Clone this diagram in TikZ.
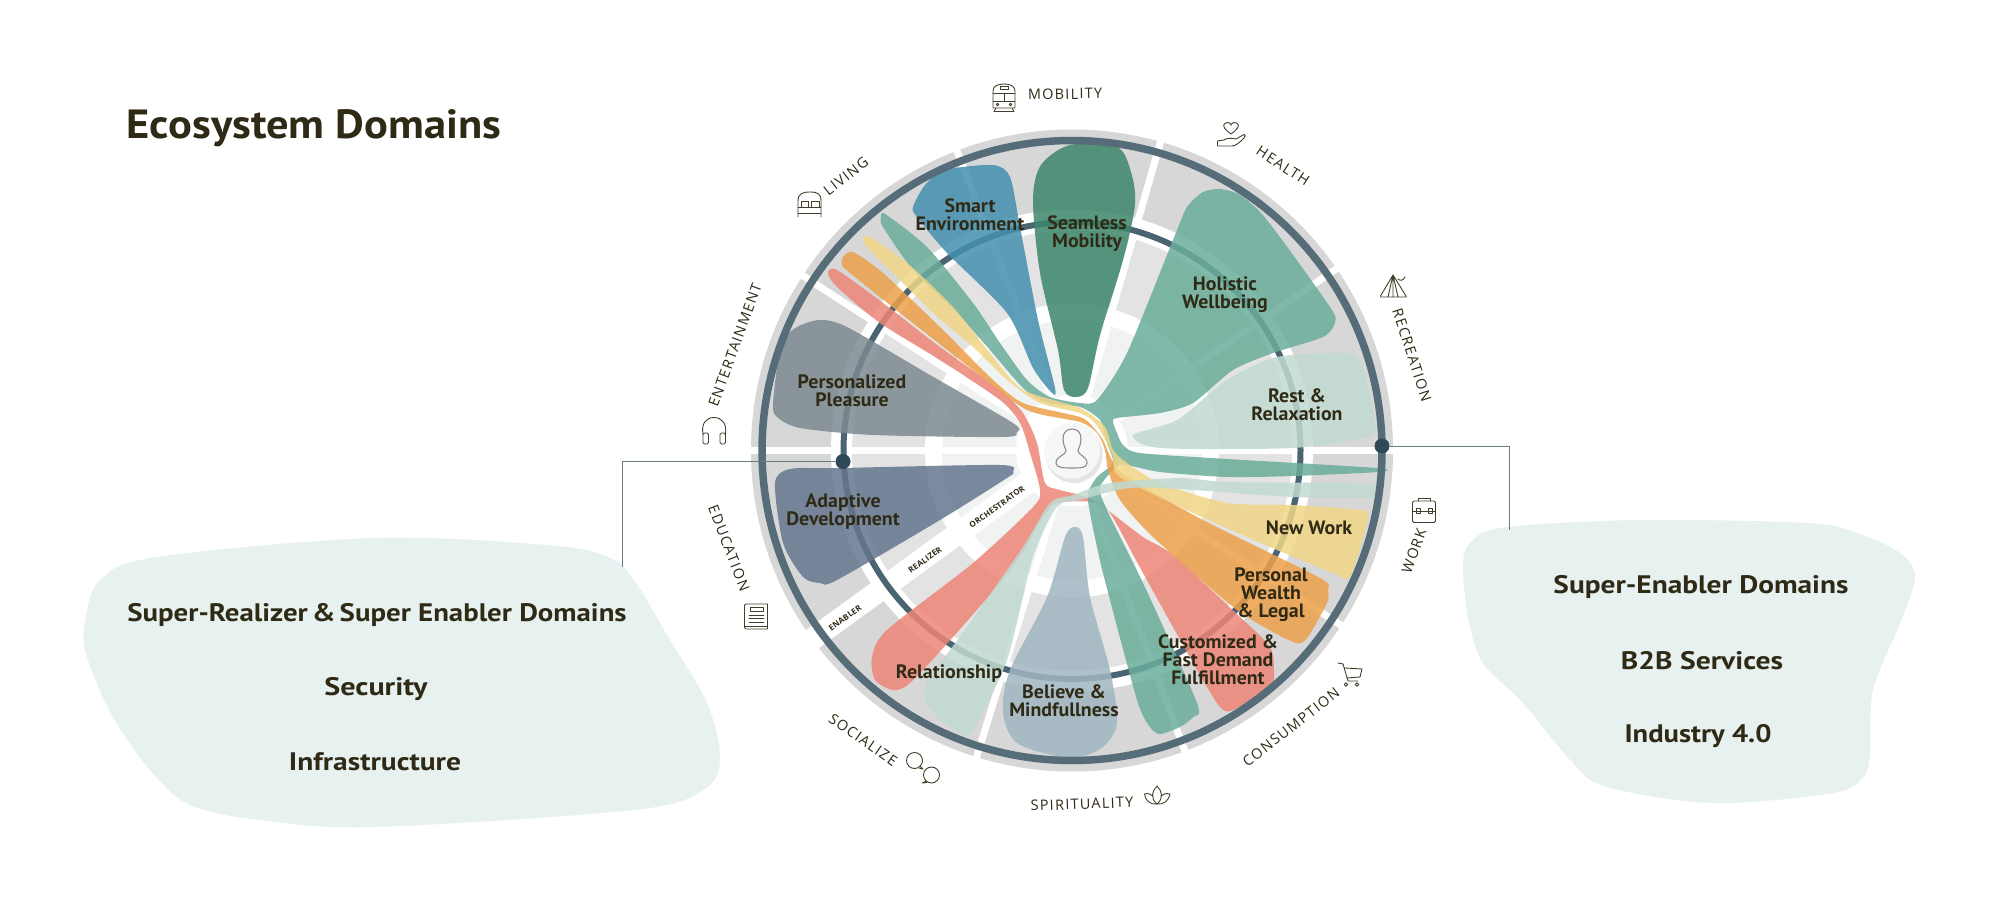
\documentclass[tikz,border=0pt]{standalone}
\usepackage{fontspec}
\setmainfont{PT Sans}
\newfontfamily\lblfont[LetterSpace=9]{Open Sans}
\newfontfamily\bandfont[LetterSpace=3]{Open Sans}
\newcommand{\wider}[1]{\addfontfeature{FakeStretch=#1}}
\newdimen\px \px=0.05cm
\definecolor{ink}{HTML}{2F2A15}
\definecolor{ringout}{HTML}{566C78}
\definecolor{ringin}{HTML}{4A6472}
\definecolor{dotc}{HTML}{2F4A57}
\definecolor{bandA}{HTML}{D7D7D7}
\definecolor{bandB}{HTML}{E3E3E3}
\definecolor{bandC}{HTML}{F1F3F2}
\definecolor{blob}{HTML}{E7F1EF}
\definecolor{cRed}{HTML}{ED8576}
\definecolor{cOrange}{HTML}{EDA04A}
\definecolor{cYellow}{HTML}{F0D687}
\definecolor{cGreen}{HTML}{6AAC9A}
\definecolor{cMob}{HTML}{3C856A}
\definecolor{cBlue}{HTML}{458FAF}
\definecolor{cGrey}{HTML}{7D8A91}
\definecolor{cAdapt}{HTML}{64768E}
\definecolor{cBelieve}{HTML}{A0B6C1}
\definecolor{cPale}{HTML}{C1DAD1}
\tikzset{
 petal/.style={fill=#1,fill opacity=.85},
 wheeltext/.style={text=ink,align=center,font=\bfseries\fontsize{27.5}{25.6}\selectfont\wider{1.03},inner sep=0pt},
 blobtext/.style={text=ink,font=\bfseries\fontsize{36}{40}\selectfont,inner sep=0pt},
 domainlabel/.style={text=ink,font=\lblfont\fontsize{20.5}{22}\selectfont,inner sep=0pt},
 bandlabel/.style={text=ink,font=\bandfont\bfseries\fontsize{11.5}{13}\selectfont,inner sep=0pt,rotate=36},
 spoke/.style={white,line width=7\px},
 iconline/.style={draw=ink!90,line width=.9\px,line cap=round,line join=round},
 linkline/.style={draw=ringout!90,line width=1\px},
}
\begin{document}
\begin{tikzpicture}[x=0.05cm,y=-0.05cm]
\useasboundingbox (0,0) rectangle (2000,910);
\fill[white] (0,0) rectangle (2000,910);
\def\cx{1072}\def\cy{450.5}
% blobs
\fill[blob] plot[smooth cycle,tension=.55] coordinates {(85,623)(100,580)(157,557)(374,538)(547,545)(608,557)(634,580)(668,637)(707,703)(720,760)(703,790)(634,810)(374,827)(260,820)(190,805)(150,770)(113,717)(87,657)};
\fill[blob] plot[smooth cycle,tension=.55] coordinates {(1463,563)(1473,540)(1507,527)(1640,520)(1807,523)(1857,533)(1900,553)(1915,577)(1900,623)(1873,690)(1870,753)(1863,777)(1833,793)(1713,803)(1607,787)(1573,763)(1523,703)(1483,663)(1468,617)};
% bands
\fill[bandA] (\cx,\cy) circle (321);
\fill[white] (\cx,\cy) circle (241);
\fill[bandB] (\cx,\cy) circle (220);
\fill[white] (\cx,\cy) circle (147);
\fill[bandC] (\cx,\cy) circle (130);
\foreach \a in {0,34.5,74,111,147,180,252.7,290.6,327}
  \draw[spoke] (\cx,\cy) -- ({\cx+330*cos(\a)},{\cy-330*sin(\a)});
\draw[spoke,line width=22\px] (\cx,\cy) -- ({\cx+330*cos(216)},{\cy-330*sin(216)});
\fill[white] (\cx,\cy) circle (56);
% inner ring under petals
\draw[ringin,line width=6\px] (\cx,\cy) circle (228.5);
% petals
\fill[petal=cGrey] plot[smooth cycle,tension=.45] coordinates {(773,403)(781,345)(797,327)(820,320)(847,327)(930,375)(1013,423)(1017,432)(1003,437)(873,435)(800,428)(777,417)};
\fill[petal=cAdapt] plot[smooth cycle,tension=.45] coordinates {(775,483)(790,469)(840,468)(1000,465)(1013,472)(1007,478)(940,520)(837,580)(820,583)(803,577)(783,543)};
\fill[petal=cBelieve] plot[smooth cycle,tension=.5] coordinates {(1075,527)(1065,537)(1047,597)(1010,670)(1003,713)(1017,743)(1060,757)(1080,757)(1103,747)(1117,723)(1110,670)(1090,597)(1083,537)};
\fill[petal=cBlue] plot[smooth cycle,tension=.45] coordinates {(913,207)(925,185)(945,170)(993,165)(1010,177)(1020,227)(1038,320)(1055,388)(1052,393)(1033,368)(1007,313)(947,253)(917,217)};
\fill[petal=cMob] plot[smooth cycle,tension=.5] coordinates {(1033,200)(1041,165)(1070,145)(1117,147)(1131,172)(1135,205)(1123,260)(1100,335)(1088,388)(1076,397)(1064,390)(1058,350)(1040,273)};
\fill[petal=cRed] plot[smooth cycle,tension=.45] coordinates {(828,273)(837,270)(883,303)(940,347)(1000,390)(1023,413)(1037,443)(1045,483)(1060,490)(1093,500)(1143,537)(1173,555)(1240,617)(1270,647)(1274,673)(1270,687)(1233,710)(1220,707)(1197,670)(1143,573)(1110,513)(1093,502)(1057,503)(1043,517)(1013,567)(953,637)(910,683)(893,690)(875,680)(872,657)(887,630)(973,563)(1033,507)(1040,490)(1030,453)(1020,423)(1000,400)(940,360)(880,323)(837,287)};
\fill[petal=cGreen] plot[smooth cycle,tension=.42] coordinates {(881,218)(885,214)(927,247)(973,303)(1000,343)(1027,380)(1050,397)(1080,403)(1097,400)(1127,353)(1173,240)(1187,207)(1203,192)(1220,189)(1240,195)(1267,220)(1330,307)(1335,323)(1323,337)(1273,353)(1233,370)(1193,403)(1160,413)(1117,418)(1113,422)(1117,433)(1123,445)(1140,453)(1227,459)(1377,468)(1378,472)(1293,476)(1227,477)(1160,472)(1127,465)(1117,466)(1100,487)(1107,510)(1143,583)(1197,703)(1193,717)(1180,727)(1160,734)(1150,727)(1137,700)(1103,573)(1090,513)(1088,493)(1097,477)(1113,463)(1107,443)(1100,420)(1080,407)(1047,403)(1023,388)(990,350)(957,313)(913,270)(883,227)};
\fill[petal=cOrange] plot[smooth cycle,tension=.42] coordinates {(843,257)(853,252)(883,273)(940,327)(990,377)(1023,403)(1080,417)(1093,427)(1103,440)(1112,460)(1127,477)(1203,520)(1320,578)(1328,590)(1327,603)(1307,638)(1293,642)(1237,610)(1153,537)(1120,500)(1108,470)(1105,450)(1097,433)(1080,422)(1027,410)(973,370)(900,313)(850,273)(842,265)};
\fill[petal=cYellow] plot[smooth cycle,tension=.42] coordinates {(868,236)(907,263)(953,307)(993,357)(1023,390)(1080,408)(1105,427)(1113,450)(1127,463)(1160,483)(1227,503)(1293,505)(1360,510)(1368,518)(1350,577)(1333,573)(1270,547)(1193,513)(1120,477)(1113,457)(1107,443)(1095,423)(1080,413)(1040,403)(1007,380)(973,347)(933,313)(897,277)(865,245)};
\fill[petal=cPale] plot[smooth cycle,tension=.45] coordinates {(1073,495)(1110,483)(1180,478)(1227,482)(1343,483)(1377,485)(1380,492)(1377,498)(1293,497)(1193,490)(1130,488)(1080,500)(1057,507)(1033,557)(1007,660)(973,730)(960,733)(935,715)(925,687)(967,627)(1023,547)(1050,503)};
\fill[petal=cPale] plot[smooth cycle,tension=.45] coordinates {(1133,435)(1177,420)(1227,380)(1277,357)(1340,353)(1360,360)(1375,423)(1367,437)(1293,448)(1160,448)};
% outer ring
\draw[ringout,line width=7.5\px] (\cx,\cy) circle (310);
% person
\fill[black!10] (\cx+2,\cy+4) circle (28.5);
\fill[white!97!black] (\cx,\cy) circle (28);
\draw[draw=black!45,line width=1.1\px,line join=round]
 (1072,429) .. controls (1066,429) and (1063,433) .. (1063,439) .. controls (1063,445) and (1066,449) .. (1066,451)
 .. controls (1066,455) and (1056,456) .. (1056,463) .. controls (1056,468) and (1064,468) .. (1072,468)
 .. controls (1080,468) and (1087,468) .. (1087,463) .. controls (1087,456) and (1078,455) .. (1078,451)
 .. controls (1078,449) and (1081,445) .. (1081,439) .. controls (1081,433) and (1078,429) .. (1072,429) -- cycle;
% connectors
\node[circle,fill=dotc,minimum size=15\px,inner sep=0pt] (dotL) at (843,461.5) {};
\node[circle,fill=dotc,minimum size=15\px,inner sep=0pt] (dotR) at (1382,446) {};
\coordinate (cornerL) at (622,461.5);
\coordinate (endL) at (622,567);
\coordinate (cornerR) at (1509,446);
\coordinate (endR) at (1509,530);
\draw[linkline] (dotL) -- (cornerL) -- (endL);
\draw[linkline] (dotR) -- (cornerR) -- (endR);
% wheel texts
\node[wheeltext] (t1) at (970,215) {Smart\\Environment};
\node[wheeltext] (t2) at (1087,234) {Seamless\\Mobility};
\node[wheeltext] (t3) at (1225,294.5) {Holistic\\Wellbeing};
\node[wheeltext] (t4) at (1297,405) {Rest \&\\Relaxation};
\node[wheeltext] (t5) at (1309,528) {New Work};
\node[wheeltext] (t6) at (1271,594.5) {Personal\\Wealth\\\& Legal};
\node[wheeltext] (t7) at (1218,660) {Customized \&\\Fast Demand\\Fulfillment};
\node[wheeltext] (t8) at (1064,701) {Believe \&\\Mindfullness};
\node[wheeltext] (t9) at (949,674) {Relationship};
\node[wheeltext] (t10) at (843,512) {Adaptive\\Development};
\node[wheeltext] (t11) at (852,391) {Personalized\\Pleasure};
% band labels
\node[bandlabel] (b1) at (845,618) {ENABLER};
\node[bandlabel] (b2) at (925,560) {REALIZER};
\node[bandlabel] (b3) at (997,507) {ORCHESTRATOR};
% domains
\node[domainlabel,rotate=1] (d1) at (1065,94) {MOBILITY};
\node[domainlabel,rotate=-33] (d2) at (1283,166) {HEALTH};
\node[domainlabel,rotate=-72] (d3) at (1412,355) {RECREATION};
\node[domainlabel,rotate=70] (d4) at (1414,551) {WORK};
\node[domainlabel,rotate=38] (d5) at (1291,727) {CONSUMPTION};
\node[domainlabel,rotate=2] (d6) at (1082,804) {SPIRITUALITY};
\node[domainlabel,rotate=-35] (d7) at (863,740) {SOCIALIZE};
\node[domainlabel,rotate=-69] (d8) at (729,548) {EDUCATION};
\node[domainlabel,rotate=70] (d9) at (735,345) {ENTERTAINMENT};
\node[domainlabel,rotate=38] (d10) at (846,176) {LIVING};
% title & blob text
\node[text=ink,font=\bfseries\fontsize{58}{60}\selectfont\wider{1.09},inner sep=0pt] (title) at (314,128) {Ecosystem Domains};
\node[blobtext] (l1) at (377,615) {\wider{1.14}Super-Realizer\,\&\,Super Enabler Domains};
\node[blobtext] (l2) at (376,689) {\wider{1.19}Security};
\node[blobtext] (l3) at (375,762) {\wider{1.165}Infrastructure};
\node[blobtext] (r1) at (1701,587) {\wider{1.16}Super-Enabler Domains};
\node[blobtext] (r2) at (1702,661) {\wider{1.17}B2B Services};
\node[blobtext] (r3) at (1698,736) {\wider{1.13}Industry 4.0};
% icons
% train
\draw[iconline] (993,108) -- (993,91) .. controls (993,86) and (998,84) .. (1004,84) .. controls (1010,84) and (1015,86) .. (1015,91) -- (1015,108) -- cycle;
\draw[iconline] (993,93) -- (1015,93) (993,101) -- (1015,101) (1004,93) -- (1004,101) (1000,86.5) rectangle (1008,89);
\draw[iconline] (997.5,104.5) circle (1.3) (1010.5,104.5) circle (1.3);
\draw[iconline] (996,108) -- (994,111.5) -- (1014,111.5) -- (1012,108);
% bed
\draw[iconline] (798,217) -- (798,201) .. controls (798,194) and (802,192) .. (810,192) .. controls (818,192) and (821,194) .. (821,201) -- (821,217);
\draw[iconline] (798,207) -- (821,207) (798,213) -- (821,213) (801,201) rectangle (808.5,207) (811.5,201) rectangle (819,207);
% heart + hand
\draw[iconline] (1231,134) .. controls (1224,129) and (1223,126) .. (1224,124.5) .. controls (1226,121.5) and (1230,122) .. (1231,125) .. controls (1232,122) and (1236,121.5) .. (1238,124.5) .. controls (1239,126) and (1238,129) .. (1231,134) -- cycle;
\draw[iconline] (1217.5,146) -- (1217.5,141) -- (1224,140) .. controls (1226,138) and (1232,138) .. (1236,139) -- (1244,134.5) .. controls (1246,134) and (1245,137) .. (1244,138) .. controls (1240,142) and (1236,146) .. (1232,146) -- cycle;
% tent
\draw[iconline] (1393,275) -- (1380.5,296) (1393,275) -- (1406,296) (1393,275) -- (1388,297) (1393,275) -- (1398,297) (1393,275) -- (1393,297) (1380.5,297) -- (1406.5,297);
\draw[iconline] (1398,279) .. controls (1400,281) and (1403,281) .. (1405,277);
% briefcase
\draw[iconline,rounded corners=1.5\px] (1412.5,501) rectangle (1435.5,522.5);
\draw[iconline] (1412.5,511) -- (1435.5,511) (1418,501) -- (1418,498) -- (1430,498) -- (1430,501) (1416,508) rectangle (1420,513) (1428,508) rectangle (1432,513);
% cart
\draw[iconline] (1338,663) -- (1343,664) -- (1348,681) -- (1358,681) (1345,668) -- (1362,669) -- (1360,677) -- (1347,678);
\draw[iconline] (1346,684.5) circle (1.8) (1357,684.5) circle (1.8);
% lotus
\draw[iconline] (1157,804) .. controls (1150,798) and (1152,791) .. (1157,786) .. controls (1162,791) and (1164,798) .. (1157,804) -- cycle;
\draw[iconline] (1157,804) .. controls (1150,805) and (1145,800) .. (1144.5,794) .. controls (1148,793) and (1151,794) .. (1153,796);
\draw[iconline] (1157,804) .. controls (1164,805) and (1169,800) .. (1170,794) .. controls (1166,793) and (1163,794) .. (1161,796);
% speech bubbles
\draw[iconline] (914.5,760.5) circle (8);
\draw[iconline] (931.5,775) circle (8);
\draw[iconline] (920,766) -- (923,769) -- (919,768) (926,781) -- (922.5,783) -- (927,782.5);
% book
\draw[iconline] (746,604) -- (767.5,604) -- (767.5,629) -- (746,629) .. controls (744,629) and (744.5,626) .. (744.5,625) -- (744.5,606) .. controls (744.5,605) and (745,604) .. (746,604);
\draw[iconline] (750,607.5) rectangle (763,611.5);
\draw[iconline] (749,615) -- (764,615) (749,618.5) -- (764,618.5) (749,622) -- (764,622) (745,626.5) -- (767.5,626.5);
% headphones
\draw[iconline] (703,434) .. controls (701,424) and (706,417.5) .. (714,417.5) .. controls (722,417.5) and (727,424) .. (725.5,434);
\draw[iconline,rounded corners=1.5\px] (703,433) rectangle (708.5,444) (720,433) rectangle (725.5,444);
\end{tikzpicture}
\end{document}
